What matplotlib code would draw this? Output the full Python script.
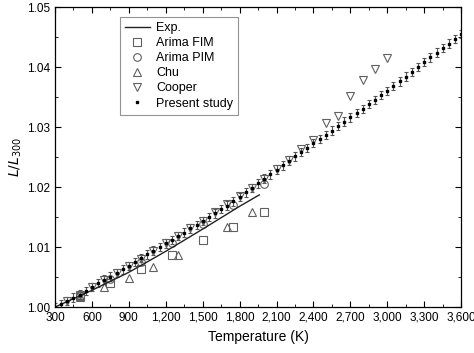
import matplotlib.pyplot as plt
from matplotlib.ticker import MultipleLocator, FuncFormatter

plt.rcParams['font.family'] = ['Liberation Sans', 'DejaVu Sans']

# present study (error bars + small filled squares)
study_t = [300, 350, 400, 450, 500, 550, 600, 650, 700, 750, 800, 850, 900, 950,
           1000, 1050, 1100, 1150, 1200, 1250, 1300, 1350, 1400, 1450, 1500, 1550,
           1600, 1650, 1700, 1750, 1800, 1850, 1900, 1950, 2000, 2050, 2100, 2150,
           2200, 2250, 2300, 2350, 2400, 2450, 2500, 2550, 2600, 2650, 2700, 2750,
           2800, 2850, 2900, 2950, 3000, 3050, 3100, 3150, 3200, 3250, 3300, 3350,
           3400, 3450, 3500, 3550, 3600]
study_l = [1.0000, 1.0005, 1.0010, 1.0016, 1.0021, 1.0027, 1.0034, 1.0040, 1.0046,
           1.0051, 1.0057, 1.0063, 1.0069, 1.0075, 1.0082, 1.0088, 1.0094, 1.0100,
           1.0106, 1.0112, 1.0118, 1.0124, 1.0131, 1.0137, 1.0143, 1.0150, 1.0156,
           1.0163, 1.0169, 1.0176, 1.0183, 1.0191, 1.0198, 1.0206, 1.0214, 1.0221,
           1.0229, 1.0236, 1.0244, 1.0251, 1.0258, 1.0265, 1.0273, 1.0280, 1.0287,
           1.0294, 1.0302, 1.0309, 1.0316, 1.0323, 1.0330, 1.0338, 1.0345, 1.0353,
           1.0360, 1.0368, 1.0376, 1.0384, 1.0392, 1.0400, 1.0408, 1.0416, 1.0424,
           1.0432, 1.0439, 1.0447, 1.0455]
study_err = 0.0007

# Exp. line
exp_t = [300, 600, 900, 1072, 1200, 1500, 1800, 1960]
exp_l = [1.0000, 1.0028, 1.0058, 1.0078, 1.0093, 1.0130, 1.0168, 1.0187]

fim_t = [500, 750, 1000, 1250, 1500, 1750, 2000]
fim_l = [1.0018, 1.0040, 1.0064, 1.0087, 1.0112, 1.0134, 1.0159]

pim_t = [500, 750, 1000, 1250, 1500, 1750, 2000]
pim_l = [1.0019, 1.0047, 1.0075, 1.0106, 1.0138, 1.0170, 1.0205]

chu_t = [500, 700, 900, 1100, 1300, 1700, 1900]
chu_l = [1.0017, 1.0034, 1.0049, 1.0067, 1.0087, 1.0134, 1.0159]

cooper_t = [400, 500, 600, 700, 800, 900, 1000, 1100, 1200, 1300, 1400, 1500,
            1600, 1700, 1800, 1900, 2000, 2100, 2200, 2300, 2400, 2500, 2600,
            2700, 2800, 2900, 3000]
cooper_l = [1.0010, 1.0021, 1.0033, 1.0045, 1.0057, 1.0069, 1.0081, 1.0094,
            1.0106, 1.0119, 1.0131, 1.0144, 1.0158, 1.0171, 1.0185, 1.0199,
            1.0214, 1.0230, 1.0245, 1.0263, 1.0279, 1.0306, 1.0318, 1.0352,
            1.0378, 1.0396, 1.0415]

gray = '#606060'
fig = plt.figure(figsize=(4.74, 3.53), dpi=100)
ax = fig.add_axes([0.116, 0.130, 0.857, 0.850])

ax.errorbar(study_t, study_l, yerr=study_err, fmt='none', ecolor='#555555',
            elinewidth=0.8, capsize=1.6, capthick=0.8, zorder=2)
ax.plot(exp_t, exp_l, '-', color='#222222', lw=1.0, label='Exp.', zorder=4)
ax.plot(fim_t, fim_l, 's', mfc='none', mec=gray, ms=5.5, mew=0.8, label='Arima FIM', zorder=3)
ax.plot(pim_t, pim_l, 'o', mfc='none', mec=gray, ms=5.5, mew=0.8, label='Arima PIM', zorder=3)
ax.plot(chu_t, chu_l, '^', mfc='none', mec=gray, ms=5.5, mew=0.8, label='Chu', zorder=3)
ax.plot(cooper_t, cooper_l, 'v', mfc='none', mec=gray, ms=5.5, mew=0.8, label='Cooper', zorder=3)
ax.plot(study_t, study_l, 's', color='black', ms=1.5, label='Present study', zorder=5)

ax.set_xlim(300, 3600)
ax.set_ylim(1.00, 1.05)
ax.xaxis.set_major_locator(MultipleLocator(300))
ax.xaxis.set_minor_locator(MultipleLocator(150))
ax.yaxis.set_major_locator(MultipleLocator(0.01))
ax.yaxis.set_minor_locator(MultipleLocator(0.005))
ax.xaxis.set_major_formatter(FuncFormatter(lambda v, p: f'{v:,.0f}'))
ax.yaxis.set_major_formatter(FuncFormatter(lambda v, p: f'{v:.2f}'))
ax.tick_params(which='both', direction='in', top=True, right=True, labelsize=8.5)
ax.tick_params(which='major', length=4)
ax.tick_params(which='minor', length=2)
for s in ax.spines.values():
    s.set_linewidth(0.9)

ax.set_xlabel('Temperature (K)', fontsize=10)
ax.set_ylabel(r'$L/L_{300}$', fontsize=10, labelpad=2)

leg = ax.legend(loc='upper left', bbox_to_anchor=(0.16, 0.967), fontsize=9,
                frameon=True, fancybox=False, edgecolor='#777777',
                handlelength=2.0, handletextpad=0.5, labelspacing=0.25,
                borderpad=0.4, borderaxespad=0)
leg.get_frame().set_linewidth(0.8)

fig.savefig('out.png', dpi=100)
